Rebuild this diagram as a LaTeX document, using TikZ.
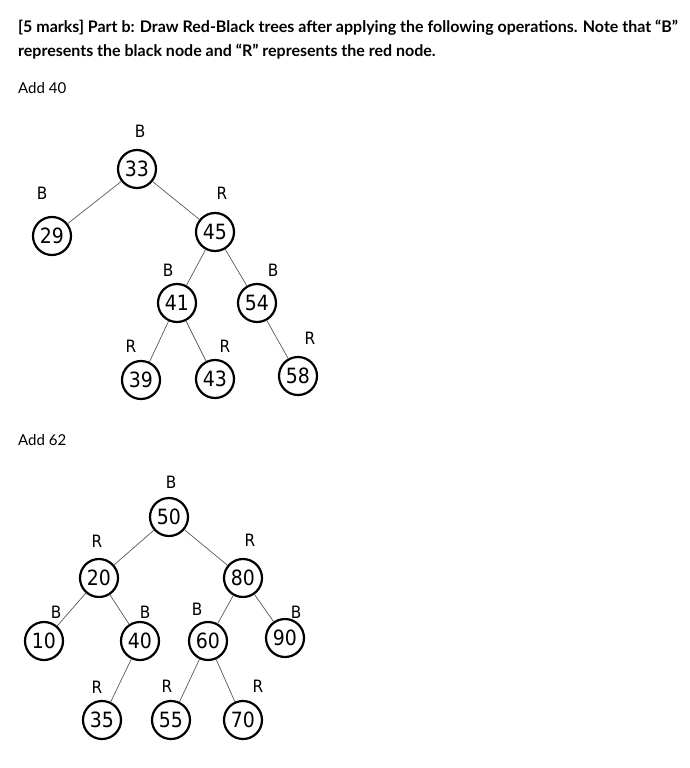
\documentclass[tikz,border=0pt]{standalone}
\usepackage{fontspec}
\setmainfont{Lato}
\newfontfamily\treefont{DejaVu Sans Condensed}
\begin{document}
\begin{tikzpicture}[x=1pt,y=-1pt,
  rb/.style={circle,draw,line width=2.2pt,minimum size=38pt,inner sep=0pt,font=\treefont\fontsize{21}{21}\selectfont},
  lab/.style={font=\treefont\fontsize{17}{17}\selectfont},
  edge/.style={draw=black!65,line width=0.7pt},
  hdr/.style={anchor=west,inner sep=0pt,font=\fontsize{15}{18}\selectfont}]
\useasboundingbox (0,0) rectangle (690,768);
\node[hdr,font=\bfseries\fontsize{16}{18}\selectfont] (t1) at (18,28) {[5 marks] Part b: Draw Red-Black trees after applying the following operations. Note that “B”};
\node[hdr,font=\bfseries\fontsize{16}{18}\selectfont] (t2) at (18,52) {represents the black node and “R” represents the red node.};
\node[hdr] (a40) at (18,88) {Add 40};
\node[hdr] (a62) at (18,440) {Add 62};
% tree 1
\node[rb] (n33) at (137,169) {33};
\node[rb] (n29) at (52,236) {29};
\node[rb] (n45) at (215,232) {45};
\node[rb] (n41) at (177,303) {41};
\node[rb] (n54) at (257,303) {54};
\node[rb] (n39) at (141,380) {39};
\node[rb] (n43) at (215,379) {43};
\node[rb] (n58) at (298,376) {58};
\draw[edge] (n33) -- (n29); \draw[edge] (n33) -- (n45);
\draw[edge] (n45) -- (n41); \draw[edge] (n45) -- (n54);
\draw[edge] (n41) -- (n39); \draw[edge] (n41) -- (n43);
\draw[edge] (n54) -- (n58);
\node[lab] (l33) at (140,131) {B};
\node[lab] (l29) at (42,193) {B};
\node[lab] (l45) at (222,193) {R};
\node[lab] (l41) at (168,270) {B};
\node[lab] (l54) at (273,270) {B};
\node[lab] (l39) at (131,346) {R};
\node[lab] (l43) at (225,346) {R};
\node[lab] (l58) at (310,338) {R};
% tree 2
\node[rb] (m50) at (169,517) {50};
\node[rb] (m20) at (99,578) {20};
\node[rb] (m80) at (243,578) {80};
\node[rb] (m10) at (44,641) {10};
\node[rb] (m40) at (140,641) {40};
\node[rb] (m60) at (208,641) {60};
\node[rb] (m90) at (285,638) {90};
\node[rb] (m35) at (102,720) {35};
\node[rb] (m55) at (171,720) {55};
\node[rb] (m70) at (243,720) {70};
\draw[edge] (m50) -- (m20); \draw[edge] (m50) -- (m80);
\draw[edge] (m20) -- (m10); \draw[edge] (m20) -- (m40);
\draw[edge] (m80) -- (m60); \draw[edge] (m80) -- (m90);
\draw[edge] (m40) -- (m35);
\draw[edge] (m60) -- (m55); \draw[edge] (m60) -- (m70);
\node[lab] (k50) at (171,482) {B};
\node[lab] (k20) at (97,541) {R};
\node[lab] (k80) at (250,540) {R};
\node[lab] (k10) at (56,612) {B};
\node[lab] (k40) at (145,612) {B};
\node[lab] (k60) at (197,609) {B};
\node[lab] (k90) at (296,612) {B};
\node[lab] (k35) at (97,687) {R};
\node[lab] (k55) at (167,686) {R};
\node[lab] (k70) at (258,686) {R};
\end{tikzpicture}
\end{document}
